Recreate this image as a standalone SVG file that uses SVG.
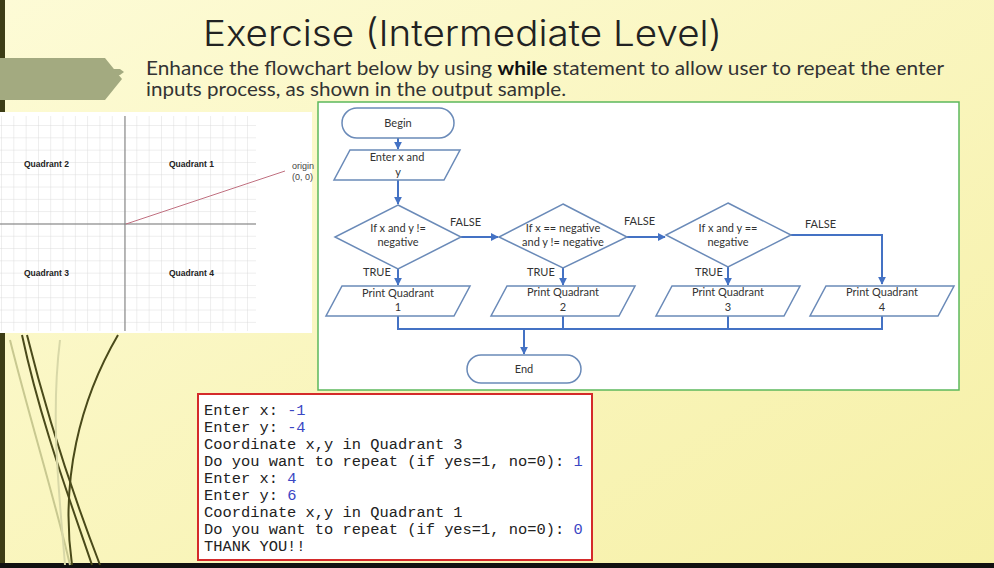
<svg xmlns="http://www.w3.org/2000/svg" width="994" height="568" viewBox="0 0 994 568">
<defs>
<linearGradient id="bg" x1="0" y1="0" x2="1" y2="1"><stop offset="0" stop-color="#fdfbd6"/><stop offset="1" stop-color="#f6f0a6"/></linearGradient>
<marker id="ah" viewBox="0 0 10 10" refX="9" refY="5" markerWidth="4" markerHeight="4" orient="auto"><path d="M0,0L10,5L0,10z" fill="#4472c4"/></marker>
<pattern id="grid" width="12.3" height="12.3" patternUnits="userSpaceOnUse" x="2" y="3"><path d="M12.3,0V12.3H0" fill="none" stroke="#d4d4d4" stroke-width="0.8"/></pattern>
</defs>
<style>
.fc{fill:#fff;stroke:#6a8ab8;stroke-width:1.5}
.ln{fill:none;stroke:#4472c4;stroke-width:2}
.t{font-family:Lato,"Open Sans",sans-serif;font-size:11px;fill:#333;text-anchor:middle}
.lb{font-family:Lato,"Open Sans",sans-serif;font-size:11px;fill:#333}
.q{font-family:"Liberation Sans",Arial,sans-serif;font-size:8.5px;font-weight:bold;fill:#222}
.m{font-family:"Liberation Mono","Courier New",monospace;font-size:15.4px;fill:#222}
.b{fill:#3b47c4}
.dc{fill:none;stroke:#4a4a1a;stroke-width:2}
</style>
<rect width="994" height="568" fill="url(#bg)"/>
<rect x="0" y="0" width="5" height="568" fill="#3d3d16"/>
<rect x="0" y="563" width="994" height="5" fill="#111"/>
<g id="decor">
<path class="dc" d="M22,335 C40,420 70,500 92,565"/>
<path class="dc" d="M27,335 C48,420 75,500 100,565" stroke-width="1.5"/>
<path class="dc" d="M118,335 C80,400 60,480 72,565" stroke-width="1.5"/>
<path d="M10,340 C30,420 55,500 70,565" fill="none" stroke="#c8c890" stroke-width="2"/>
<path d="M60,340 C50,420 60,500 65,565" fill="none" stroke="#d8d8a8" stroke-width="2"/>
</g>
<polygon points="0,58 105,58 122,79 105,100 0,100" fill="#a3aa80"/>
<text x="203" y="46" font-family="Inter,'Open Sans',sans-serif" font-weight="300" font-size="36" fill="#222" textLength="519" lengthAdjust="spacingAndGlyphs">Exercise (Intermediate Level)</text>
<path d="M114,69 l6,0 4,3 -4,3 -6,0z" fill="#a3aa80"/>
<text font-family="Lato,'Open Sans',sans-serif" font-size="19" fill="#333"><tspan x="146" y="75" textLength="798" lengthAdjust="spacingAndGlyphs">Enhance the flowchart below by using <tspan font-weight="bold" fill="#111">while</tspan> statement to allow user to repeat the enter</tspan></text>
<text font-family="Lato,'Open Sans',sans-serif" font-size="19" fill="#333" x="146" y="96" textLength="420" lengthAdjust="spacingAndGlyphs">inputs process, as shown in the output sample.</text>
<g id="graph">
<rect x="0" y="112" width="312" height="221" fill="#fff"/>
<rect x="0" y="116" width="256" height="215" fill="url(#grid)"/>
<line x1="0" y1="224" x2="256" y2="224" stroke="#777" stroke-width="1"/>
<line x1="125" y1="116" x2="125" y2="331" stroke="#777" stroke-width="1"/>
<text class="q" x="24" y="167">Quadrant 2</text>
<text class="q" x="169" y="167">Quadrant 1</text>
<text class="q" x="24" y="276">Quadrant 3</text>
<text class="q" x="169" y="276">Quadrant 4</text>
<line x1="285" y1="171" x2="126" y2="224" stroke="#c07080" stroke-width="1"/>
<text font-family="'Liberation Sans',sans-serif" font-size="9" fill="#444"><tspan x="292" y="169">origin</tspan><tspan x="292" y="180">(0, 0)</tspan></text>
</g>
<rect x="318" y="102" width="641" height="288" fill="#fff" stroke="#5cb85c" stroke-width="1.5"/>
<g id="connectors">
<path class="ln" d="M398,138V149" marker-end="url(#ah)"/>
<path class="ln" d="M398,180V204" marker-end="url(#ah)"/>
<path class="ln" d="M461,237H498" marker-end="url(#ah)"/>
<path class="ln" d="M627,237H665" marker-end="url(#ah)"/>
<path class="ln" d="M791,235H882V284" marker-end="url(#ah)"/>
<path class="ln" d="M398,269V285" marker-end="url(#ah)"/>
<path class="ln" d="M563,268V285" marker-end="url(#ah)"/>
<path class="ln" d="M728,267V285" marker-end="url(#ah)"/>
<path class="ln" d="M398,316V329H882V316M563,316V329M728,316V329" stroke-width="1.5"/>
<path class="ln" d="M524,329V354" marker-end="url(#ah)"/>
</g>
<g id="begin"><rect class="fc" x="342" y="108" width="112" height="30" rx="15"/><text class="t" x="398" y="127">Begin</text></g>
<g id="enter"><polygon class="fc" points="350,150 460,150 444,180 334,180"/><text class="t" x="397" y="161">Enter x and</text><text class="t" x="398" y="176">y</text></g>
<g id="d1"><polygon class="fc" points="398,205 461,237 398,269 335,237"/><text class="t" x="398" y="232">If x and y !=</text><text class="t" x="398" y="246">negative</text></g>
<g id="d2"><polygon class="fc" points="563,204 627,237 563,268 499,237"/><text class="t" x="563" y="232">If x == negative</text><text class="t" x="563" y="246">and y != negative</text></g>
<g id="d3"><polygon class="fc" points="728,203 791,235 728,267 666,235"/><text class="t" x="728" y="232">If x and y ==</text><text class="t" x="728" y="246">negative</text></g>
<text class="lb" x="450" y="226">FALSE</text>
<text class="lb" x="624" y="225">FALSE</text>
<text class="lb" x="805" y="228">FALSE</text>
<text class="lb" x="363" y="276">TRUE</text>
<text class="lb" x="527" y="276">TRUE</text>
<text class="lb" x="695" y="276">TRUE</text>
<g id="p1"><polygon class="fc" points="342,286 470,286 454,316 326,316"/><text class="t" x="398" y="297">Print Quadrant</text><text class="t" x="398" y="311">1</text></g>
<g id="p2"><polygon class="fc" points="507,286 635,286 619,316 491,316"/><text class="t" x="563" y="296">Print Quadrant</text><text class="t" x="563" y="311">2</text></g>
<g id="p3"><polygon class="fc" points="672,286 800,286 784,316 656,316"/><text class="t" x="728" y="296">Print Quadrant</text><text class="t" x="728" y="311">3</text></g>
<g id="p4"><polygon class="fc" points="826,286 954,286 938,316 810,316"/><text class="t" x="882" y="296">Print Quadrant</text><text class="t" x="882" y="311">4</text></g>
<g id="end"><rect class="fc" x="467" y="355" width="114" height="28" rx="14"/><text class="t" x="524" y="373">End</text></g>
<g id="console">
<rect x="198" y="394" width="394" height="166" fill="#fff" stroke="#d42a2a" stroke-width="2"/>
<text class="m" x="204" y="415">Enter x: <tspan class="b">-1</tspan></text>
<text class="m" x="204" y="432">Enter y: <tspan class="b">-4</tspan></text>
<text class="m" x="204" y="449">Coordinate x,y in Quadrant 3</text>
<text class="m" x="204" y="466">Do you want to repeat (if yes=1, no=0): <tspan class="b">1</tspan></text>
<text class="m" x="204" y="483">Enter x: <tspan class="b">4</tspan></text>
<text class="m" x="204" y="500">Enter y: <tspan class="b">6</tspan></text>
<text class="m" x="204" y="517">Coordinate x,y in Quadrant 1</text>
<text class="m" x="204" y="534">Do you want to repeat (if yes=1, no=0): <tspan class="b">0</tspan></text>
<text class="m" x="204" y="551">THANK YOU!!</text>
</g>
</svg>
